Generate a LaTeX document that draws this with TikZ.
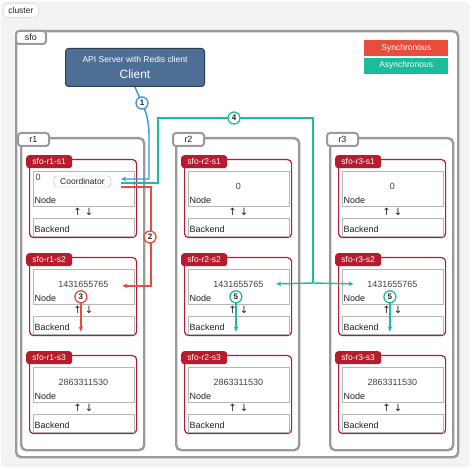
\documentclass[tikz,border=0pt]{standalone}
\usepackage{fontspec}
\setmainfont{Liberation Sans}
\newfontfamily\arrowfont{DejaVu Sans}
\usetikzlibrary{positioning,arrows.meta}

\definecolor{clusterbg}{HTML}{F2F3F4}
\definecolor{framegray}{HTML}{9A9A9A}
\definecolor{innergray}{HTML}{B5B5B5}
\definecolor{shardred}{HTML}{B81C2C}
\definecolor{syncred}{HTML}{E74C3C}
\definecolor{asyncteal}{HTML}{1ABC9C}
\definecolor{callblue}{HTML}{3498DB}
\definecolor{clientfill}{HTML}{4E6F95}
\definecolor{clientdraw}{HTML}{2C3E50}
\definecolor{textdark}{HTML}{222222}

\begin{document}
\begin{tikzpicture}[x=1pt,y=-1pt,font=\fontsize{9}{10}\selectfont,text=textdark,
    box/.style={inner sep=0pt,anchor=north west},
    frame/.style={box,draw=framegray,line width=2.4pt,rounded corners=5pt,fill=white},
    frametab/.style={box,draw=framegray,line width=2pt,rounded corners=3pt,fill=white,minimum height=13pt,font=\fontsize{9}{10}\selectfont},
    shard/.style={box,draw=shardred,line width=1.2pt,rounded corners=4pt,fill=white,minimum width=107pt,minimum height=78pt},
    shardtab/.style={box,fill=shardred,rounded corners=3pt,text=white,minimum width=46pt,minimum height=13pt,font=\fontsize{8.5}{10}\selectfont},
    part/.style={box,draw=innergray,line width=0.8pt,fill=white,minimum width=101pt},
    legend/.style={box,text=white,minimum width=84pt,minimum height=16pt,font=\fontsize{8.5}{10}\selectfont},
    flow/.style={line width=1.4pt,-{Stealth[length=5pt,width=4.5pt]}},
    stepno/.style={circle,draw,fill=white,line width=1.3pt,inner sep=0pt,minimum size=12pt,text=textdark,font=\fontsize{8}{9}\selectfont\bfseries}
  ]

\useasboundingbox (0,0) rectangle (474,470);

% cluster and datacenter
\node[box,fill=clusterbg,rounded corners=6pt,minimum width=469pt,minimum height=466pt] (cluster) at (1,1) {};
\node[box,draw=black!12,line width=0.8pt,fill=white,rounded corners=4pt,minimum width=35pt,minimum height=14pt,font=\fontsize{8.5}{10}\selectfont] (cluster-tab) at (3,3) {cluster};
\node[frame,minimum width=442pt,minimum height=426pt] (sfo) at (15,30) {};
\node[frametab,minimum width=30pt] (sfo-tab) at (15,30) {sfo};

\node[box,fill=clientfill,draw=clientdraw,line width=1pt,rounded corners=3pt,minimum width=139pt,minimum height=38pt,text=white,align=center] (client) at (65,48)
  {{\fontsize{8.5}{10}\selectfont API Server with Redis client}\\[6pt]{\fontsize{12}{13}\selectfont Client}};

\node[legend,fill=syncred] (sync) at (364,40) {Synchronous};
\node[legend,fill=asyncteal,below=1pt of sync] (async) {Asynchronous};

% replicas and shards
\foreach \rep/\rx in {1/20,2/175,3/329} {
  \node[frame,minimum width=123pt,minimum height=312pt] (r\rep) at (\rx,137) {};
  \node[frametab,minimum width=31pt] (r\rep-tab) at (\rx-3,132) {r\rep};
  \foreach \sh/\sy/\val in {1/159/0,2/257/1431655765,3/355/2863311530} {
    \node[shard] (r\rep-s\sh) at (\rx+9,\sy) {};
    \node[shardtab] (r\rep-s\sh-tab) at (\rx+6,\sy-4) {sfo-r\rep-s\sh};
    \node[part,minimum height=35pt,below right=12pt and 3.5pt of r\rep-s\sh.north west] (r\rep-s\sh-node) {};
    \node[part,minimum height=18pt,below=11pt of r\rep-s\sh-node] (r\rep-s\sh-backend) {};
    \node[font=\arrowfont\fontsize{10}{11}\selectfont] at ([yshift=-5.5pt]r\rep-s\sh-node.south) {↑ ↓};
    \node[anchor=base west,inner sep=0pt] at ([xshift=2pt,yshift=3.5pt]r\rep-s\sh-node.south west) {Node};
    \node[anchor=base west,inner sep=0pt] at ([xshift=2pt,yshift=4pt]r\rep-s\sh-backend.south west) {Backend};
    \ifnum\rep\sh=11 \else
      \node[text=black!75] at ([yshift=-15pt]r\rep-s\sh-node.north) {\val};
    \fi
  }
}

\node[anchor=north west,inner sep=0pt,text=black!75] at ([xshift=3pt,yshift=-3pt]r1-s1-node.north west) {0};
\node[draw=innergray,fill=white,rounded corners=3pt,minimum width=57pt,minimum height=11pt,inner sep=0pt,font=\fontsize{8.5}{10}\selectfont] (coordinator) at ([xshift=-1pt,yshift=-10.5pt]r1-s1-node.north) {Coordinator};

% connectors
\coordinate (fork) at (313,283);
\draw[flow,callblue] (client.south) .. controls (140,100) and (149,112) .. (149,135) |- ([xshift=10pt,yshift=2.5pt]coordinator.east);
\draw[line width=1.4pt,asyncteal] ([xshift=10pt,yshift=-1.5pt]coordinator.east) -- ++(37,0) -- ++(0,-65) -| (fork);
\draw[flow,asyncteal] (fork) -- ([xshift=-13pt,yshift=3pt]r2-s2-node.east);
\draw[flow,asyncteal] (fork) -- ([xshift=12pt,yshift=3pt]r3-s2-node.west);
\draw[flow,syncred] ([xshift=10pt,yshift=-5.5pt]coordinator.east) -- ++(30,0) |- ([xshift=-12pt,yshift=1pt]r1-s2-node.east);

\node[stepno,draw=callblue] (step1) at (142,103) {1};
\node[stepno,draw=syncred] (step2) at (150,237) {2};
\node[stepno,draw=asyncteal] (step4) at (234,118) {4};
\node[stepno,draw=syncred] (step3) at ([xshift=-2.5pt,yshift=8pt]r1-s2-node.south) {3};
\node[stepno,draw=asyncteal] (step5a) at ([xshift=-2.5pt,yshift=8pt]r2-s2-node.south) {5};
\node[stepno,draw=asyncteal] (step5b) at ([xshift=-2.5pt,yshift=8pt]r3-s2-node.south) {5};
\draw[flow,syncred,shorten >=3pt] (step3) -- (step3 |- r1-s2-backend.south);
\draw[flow,asyncteal,shorten >=3pt] (step5a) -- (step5a |- r2-s2-backend.south);
\draw[flow,asyncteal,shorten >=3pt] (step5b) -- (step5b |- r3-s2-backend.south);
\end{tikzpicture}
\end{document}
